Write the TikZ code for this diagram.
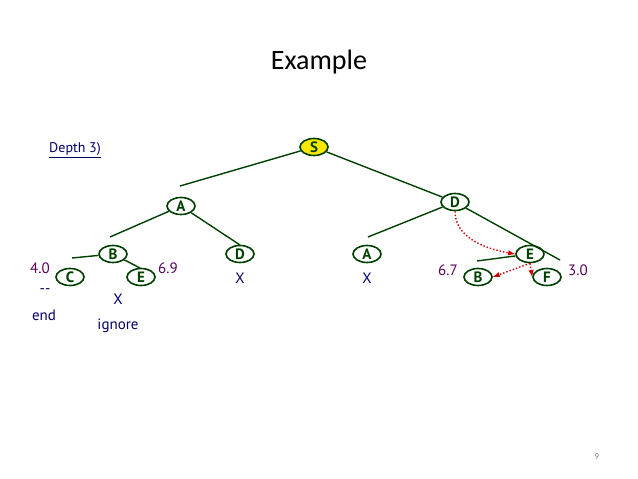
\documentclass[tikz,border=0pt]{standalone}
\usepackage{fontspec}
\setmainfont{Carlito}
\newfontfamily\hand{PT Sans}
\begin{document}
\begin{tikzpicture}[x=1pt,y=-1pt,
  tn/.style={ellipse,draw=black!75!green,line width=1.6pt,minimum width=28pt,minimum height=17pt,inner sep=0pt,font=\hand\bfseries\fontsize{15}{15}\selectfont,text=black!75!green},
  ed/.style={line width=1.4pt,draw=black!75!green},
  rd/.style={red!80!black,line width=1.4pt,dotted,-latex},
  val/.style={font=\hand\fontsize{15}{15}\selectfont,text=violet!70!black},
  xx/.style={font=\hand\fontsize{15}{15}\selectfont,text=blue!40!black}]
\useasboundingbox (0,0) rectangle (638,479);
\usetikzlibrary{shapes.geometric}
\node[font=\fontsize{28}{30}\selectfont] (title) at (319,62) {Example};
\node[font=\hand\fontsize{14}{14}\selectfont,text=blue!40!black] (depth) at (75,150) {\underline{Depth 3)}};
\node[tn,fill=yellow!90!orange] (S) at (314,147) {S};
\node[tn] (A) at (181,206) {A};
\node[tn] (B) at (113,254) {B};
\node[tn] (C) at (70,277) {C};
\node[tn] (E) at (141,277) {E};
\node[tn] (D) at (240,254) {D};
\node[tn] (A2) at (367,254) {A};
\node[tn] (D2) at (455,202) {D};
\node[tn] (E2) at (530,254) {E};
\node[tn] (B2) at (478,277) {B};
\node[tn] (F2) at (547,277) {F};
\coordinate (sa) at (180,186);
\coordinate (ab) at (110,237);
\coordinate (ad) at (240,245);
\coordinate (bc) at (72,258);
\coordinate (be) at (140,268);
\coordinate (da) at (368,237);
\coordinate (de) at (560,260);
\coordinate (eb) at (477,261);
\draw[ed] (S) -- (sa);
\draw[ed] (A) -- (ab);
\draw[ed] (A) -- (ad);
\draw[ed] (B) -- (bc);
\draw[ed] (B) -- (be);
\draw[ed] (S) -- (D2);
\draw[ed] (D2) -- (da);
\draw[ed] (D2) -- (de);
\draw[ed] (E2) -- (eb);
\draw[rd] (D2.south) .. controls (455,235) and (480,248) .. (E2.west);
\draw[rd] (E2.south) -- (B2.east);
\draw[rd] (E2.south) -- (F2.west);
\node[val] (v1) at (40,268) {4.0};
\node[val] (v2) at (168,268) {6.9};
\node[val] (v3) at (448,270) {6.7};
\node[val] (v4) at (578,270) {3.0};
\node[xx] (x1) at (240,278) {X};
\node[xx] (x2) at (367,278) {X};
\node[xx] (x3) at (118,299) {X};
\node[xx] (ig) at (118,326) {ignore};
\node[xx] (dash) at (45,291) {--};
\node[xx] (end) at (44,315) {end};
\node[text=gray,font=\fontsize{9}{9}\selectfont] (pg) at (597,457) {9};
\end{tikzpicture}
\end{document}
